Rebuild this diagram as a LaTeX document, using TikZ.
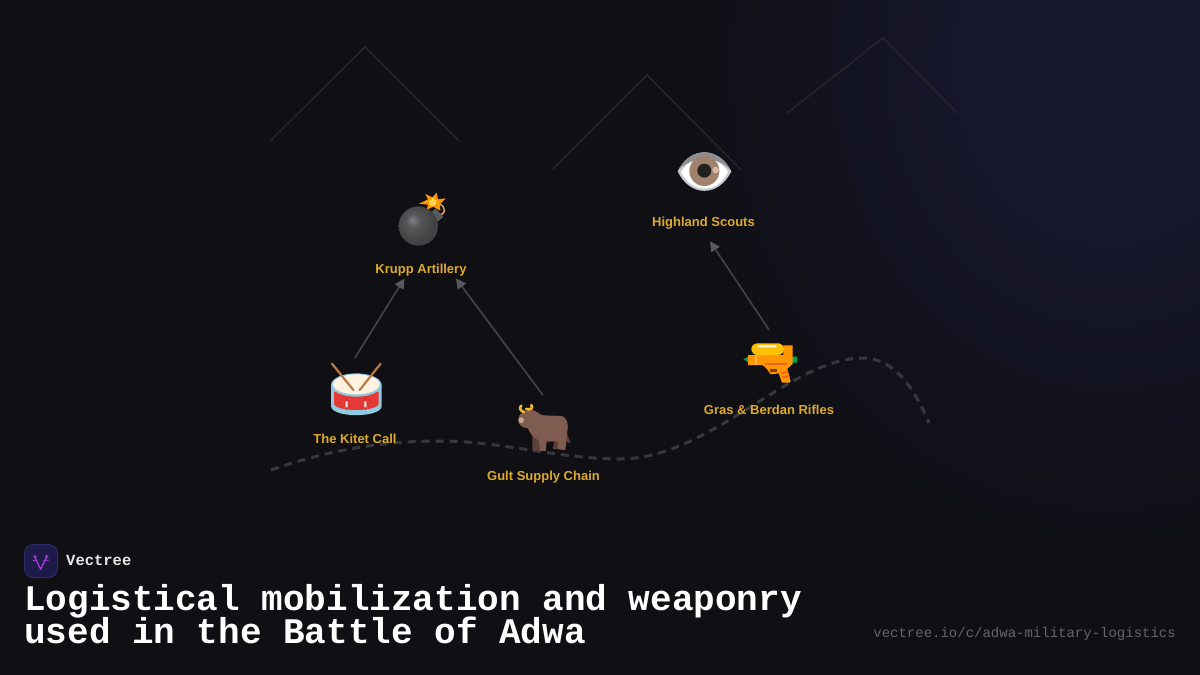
\documentclass[tikz,border=0pt]{standalone}
\usepackage{fontspec}
\setmainfont{Liberation Sans}
\newfontfamily\monof{Liberation Mono}
\usetikzlibrary{arrows.meta,calc}
\lineskiplimit=-100pt
\normallineskiplimit=-100pt
\definecolor{basec}{HTML}{0F0F14}
\definecolor{tintc}{HTML}{16172B}
\definecolor{labelc}{HTML}{DDAA2C}
\definecolor{ridgec}{HTML}{25252A}
\definecolor{trailc}{HTML}{38383C}
\definecolor{linkc}{HTML}{444447}
\definecolor{headc}{HTML}{58585C}
\definecolor{fuse}{HTML}{C99A6B}
\definecolor{flame}{HTML}{FF9800}
\definecolor{flamein}{HTML}{FFD54F}
\definecolor{bombcap}{HTML}{5A5A5C}
\definecolor{ballin}{HTML}{565658}
\definecolor{ballout}{HTML}{424244}
\definecolor{ballhi}{HTML}{808082}
\definecolor{drumrim}{HTML}{8ECAE0}
\definecolor{drumred}{HTML}{E53935}
\definecolor{drumseam}{HTML}{C62828}
\definecolor{drumlug}{HTML}{E3F2F8}
\definecolor{drumskin}{HTML}{FFF3E0}
\definecolor{stick}{HTML}{B97A45}
\definecolor{bullfur}{HTML}{7F5B50}
\definecolor{bulldark}{HTML}{5D4037}
\definecolor{bullnose}{HTML}{C9A08E}
\definecolor{horn}{HTML}{F2B72B}
\definecolor{nozzle}{HTML}{00A651}
\definecolor{gunbody}{HTML}{FF9800}
\definecolor{guntank}{HTML}{FFC107}
\definecolor{gunshine}{HTML}{FFF8E1}
\definecolor{gunstripe}{HTML}{F4611E}
\definecolor{gunslot}{HTML}{8A3A12}
\definecolor{gunlight}{HTML}{FFB74D}
\definecolor{eyerim}{HTML}{8E8E90}
\definecolor{eyelow}{HTML}{C8CCD0}
\definecolor{eyeiris}{HTML}{A1806C}
\definecolor{eyepupil}{HTML}{212121}
\definecolor{eyeglint}{HTML}{D7B9A8}
\definecolor{logoedge}{HTML}{2F2B66}
\definecolor{logofill}{HTML}{1E1B4B}
\definecolor{logopurple}{HTML}{A93BD9}
\definecolor{brandc}{HTML}{E8E8E8}
\definecolor{urlc}{HTML}{66666A}
\pgfdeclareradialshading{tintglow}{\pgfpoint{0bp}{0bp}}{color(0bp)=(tintc); color(8bp)=(tintc); color(25bp)=(basec); color(50bp)=(basec)}
\pgfdeclareradialshading{bombball}{\pgfpoint{-8bp}{8bp}}{color(0bp)=(ballhi); color(9bp)=(ballin); color(25bp)=(ballout); color(50bp)=(ballout)}
\tikzset{
  ridge/.style={draw=ridgec,line width=1.5pt},
  trail/.style={draw=trailc,line width=3pt,dash pattern=on 8pt off 6pt},
  link/.style={draw=linkc,line width=1.6pt,-{Triangle[length=10pt,width=10pt,fill=headc,color=headc]}},
  itemlabel/.style={text=labelc,font=\fontsize{13}{15}\selectfont\bfseries,inner sep=0pt,minimum height=20pt},
  iconbox/.style={inner sep=0pt,minimum width=56pt,minimum height=#1},
  zoomA/.style={shift={(300,180)},x=0.33333pt,y=-0.33333pt},
  zoomB/.style={shift={(640,130)},x=0.33333pt,y=-0.33333pt},
  zoomC/.style={shift={(0,530)},x=0.33333pt,y=-0.33333pt},
}
\begin{document}
\begin{tikzpicture}[x=1pt,y=-1pt]
\useasboundingbox (0,0) rectangle (1200,675);
\fill[basec] (0,0) rectangle (1200,675);
\begin{scope}
\clip (0,0) rectangle (1200,675);
\shade[shading=tintglow] (1110,60) ellipse [x radius=440,y radius=520];
\end{scope}
% ridges
\draw[ridge] (270,141) -- (365,47) -- (459,141);
\draw[ridge] (553,169) -- (647,75) -- (740,169);
\draw[ridge] (787,113) -- (883,38) -- (957,113);
% trail
\draw[trail] (271,470) .. controls (340,446) and (395,441) .. (440,441)
  .. controls (500,441) and (560,459) .. (620,459)
  .. controls (710,459) and (790,358) .. (863,358)
  .. controls (895,358) and (915,390) .. (929,423);

% nodes
\node[iconbox=66pt] (krupp) at (420,218) {};
\node[iconbox=58pt] (kitet) at (355,387) {};
\node[iconbox=65pt] (gult) at (543,428) {};
\node[iconbox=60pt] (rifles) at (769,360) {};
\node[iconbox=56pt] (scouts) at (704,172) {};
\node[itemlabel] (krupplabel) at (421,270.5) {Krupp Artillery};
\node[itemlabel] (kitetlabel) at (355,439) {The Kitet Call};
\node[itemlabel] (gultlabel) at (543.5,477.5) {Gult Supply Chain};
\node[itemlabel] (rifleslabel) at (769,410) {Gras \& Berdan Rifles};
\node[itemlabel] (scoutslabel) at (703.5,223.5) {Highland Scouts};

% connectors
\draw[link] (kitet.north) -- ([shift={(-16.5,-2.2)}]krupplabel.south);
\draw[link] (gult.north) -- ([shift={(35,-2.2)}]krupplabel.south);
\draw[link] (rifles.north) -- ([shift={(6.5,7.5)}]scoutslabel.south);

% bomb
\begin{scope}[zoomA]
\draw[draw=fuse,line width=1.6pt,line cap=round] (412,103) .. controls (438,108) and (440,84) .. (420,72);
\fill[flame] (410,38) -- (414,58) -- (437,55) -- (420,72) -- (421,92) -- (400,80) -- (380,90) -- (384,74) -- (357,71) -- (384,58) -- (376,42) -- (397,52) -- cycle;
\fill[flamein] (399,54) -- (410,63) -- (406,76) -- (391,77) -- (386,65) -- cycle;
\fill[bombcap,rotate around={40:(405,108)}] (388,92) rectangle (422,126);
\shade[shading=bombball] (355,138) circle (59);
\end{scope}
% drum
\begin{scope}[zoomA]
\fill[drumrim] (93,615) -- (93,680) .. controls (100,714) and (238,714) .. (245,680) -- (245,615) -- cycle;
\fill[drumred] (102,635) -- (102,672) .. controls (110,696) and (228,696) .. (236,672) -- (236,635) -- cycle;
\draw[draw=drumseam,line width=.8pt] (140,650) -- (140,690) (196,650) -- (196,690);
\fill[drumlug] (137,664) rectangle (143,682) (193,664) rectangle (199,682);
\fill[drumrim] (169,615) ellipse [x radius=76,y radius=35];
\fill[drumskin] (169,613) ellipse [x radius=70,y radius=30];
\draw[draw=stick,line width=2.2pt,line cap=round] (96,551) -- (160,630) (242,551) -- (179,630);
\end{scope}
% bull
\begin{scope}[zoomA]
\fill[bulldark] (697,812) -- (697,765) -- (725,770) -- (722,812) -- cycle (758,806) -- (766,770) -- (782,770) -- (780,808) -- cycle;
\fill[bulldark] (795,740) .. controls (800,765) and (806,775) .. (813,788) -- (802,788) -- (788,760) -- cycle;
\fill[bullfur] (655,718) .. controls (658,700) and (668,690) .. (695,690)
  .. controls (708,690) and (716,704) .. (730,706) -- (785,708)
  .. controls (802,712) and (806,735) .. (802,755) -- (796,810) -- (775,808) -- (773,782)
  .. controls (765,785) and (750,785) .. (740,785) -- (737,814) -- (720,812) -- (716,780)
  .. controls (700,776) and (690,760) .. (684,745)
  .. controls (670,745) and (652,735) .. (655,718) -- cycle;
\fill[bullnose] (655,722) .. controls (655,710) and (668,708) .. (672,718) .. controls (672,730) and (660,734) .. (655,722) -- cycle;
\draw[draw=horn,line width=2.6pt,line cap=round] (672,696) .. controls (658,692) and (658,682) .. (664,677) (678,687) .. controls (692,690) and (700,686) .. (694,675);
\end{scope}
% water pistol
\begin{scope}[zoomB]
\fill[nozzle] (310,688) -- (326,679) -- (326,697) -- cycle (456,680) -- (471,680) -- (471,698) -- (456,698) -- cycle;
\fill[gunbody] (324,675) -- (430,675) -- (430,646) -- (458,646) -- (458,702) -- (442,716) -- (452,755) -- (448,758) -- (426,758) -- (416,730) -- (392,733) -- (380,716) -- (368,705) -- (324,705) -- cycle;
\fill[guntank,rounded corners=6pt] (334,640) rectangle (432,675);
\fill[gunshine,rounded corners=1pt] (352,646) rectangle (410,652);
\fill[gunstripe] (375,699) rectangle (440,706);
\fill[gunstripe] (421,728) -- (443,723) -- (445,728) -- (423,733) -- cycle (425,740) -- (447,735) -- (449,740) -- (427,745) -- cycle;
\fill[gunslot] (390,716) rectangle (411,725);
\fill[gunlight] (345,675) rectangle (352,705);
\end{scope}
% eye
\begin{scope}[zoomB]
\fill[eyelow] (113,124) .. controls (150,48) and (236,48) .. (274,124) .. controls (236,202) and (150,202) .. (113,124) -- cycle;
\fill[eyerim] (113,124) .. controls (150,48) and (236,48) .. (274,124) .. controls (240,76) and (147,76) .. (113,124) -- cycle;
\fill[white] (123,126) .. controls (155,72) and (232,72) .. (264,126) .. controls (232,192) and (155,192) .. (123,126) -- cycle;
\fill[eyeiris] (193,123) circle (45);
\fill[eyepupil] (193,122) circle (21);
\fill[eyeglint] (227,120) circle (10);
\end{scope}
% footer
\node[draw=logoedge,fill=logofill,rounded corners=9pt,minimum size=33pt,inner sep=0pt,line width=1pt] (logo) at (41,561) {};
\begin{scope}[zoomC]
\draw[draw=logopurple,line width=1.3pt,line cap=round,line join=round] (105,82) -- (122,118) -- (140,80);
\draw[draw=logopurple,line width=1pt,line cap=round] (100,92) -- (110,90) (131,92) -- (146,90);
\fill[logopurple] (105,80) circle (5) (140,79) circle (5);
\end{scope}
\node[anchor=west,inner sep=0pt,text=brandc,font=\monof\fontsize{15.5}{18}\selectfont\bfseries] (brand) at (66,560.5) {Vectree};
\node[anchor=north west,align=left,inner sep=0pt,text=white,font=\monof\fontsize{36}{33}\selectfont\bfseries] (title) at (24,584) {Logistical mobilization and weaponry\\used in the Battle of Adwa};
\node[anchor=east,inner sep=0pt,text=urlc,font=\monof\fontsize{14}{16}\selectfont] (url) at (1176,633.5) {vectree.io/c/adwa-military-logistics};
\end{tikzpicture}
\end{document}
